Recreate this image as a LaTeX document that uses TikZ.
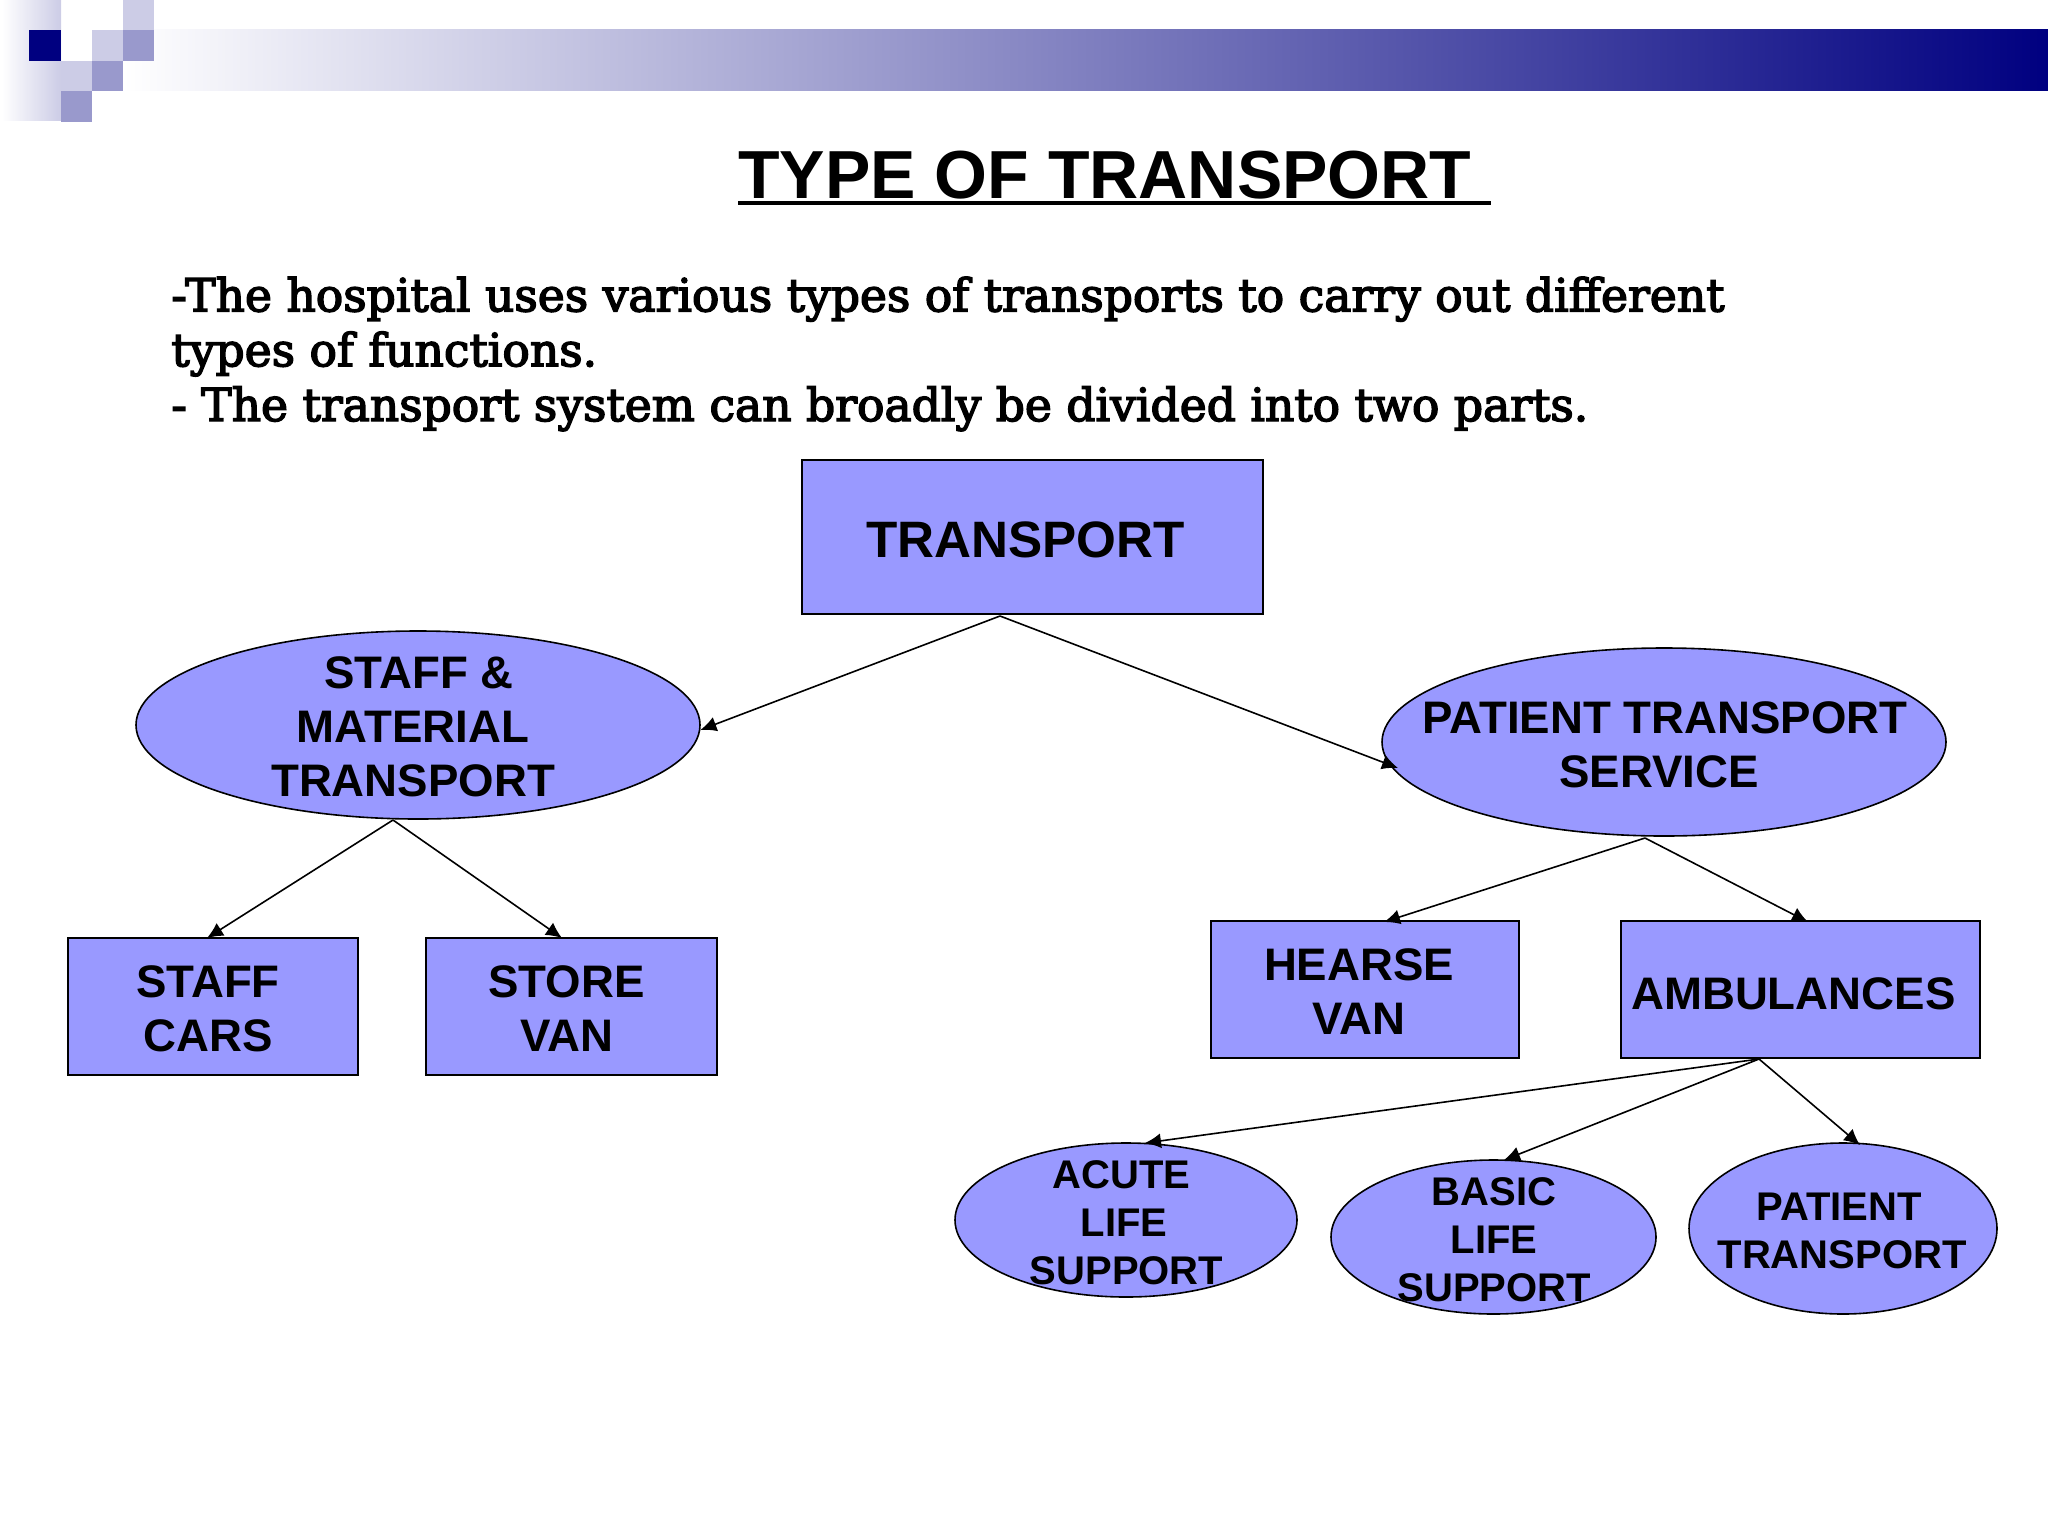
\documentclass[tikz,border=0pt]{standalone}
\usepackage{fontspec}
\setmainfont{Liberation Sans}
\newfontfamily\bodyfont[FakeBold=3.2]{DejaVu Serif}
\usetikzlibrary{shapes.geometric, arrows.meta, positioning, calc}
\definecolor{boxblue}{HTML}{9999FF}
\definecolor{deepnavy}{HTML}{000080}
\definecolor{palesq}{HTML}{CCCCE6}
\definecolor{midsq}{HTML}{9999CC}

\begin{document}
\begin{tikzpicture}[
    x=0.5pt, y=-0.5pt,
    % Define styles
    boxbig/.style={rectangle, draw=black, line width=0.8pt, fill=boxblue, inner sep=0pt},
    oval/.style={ellipse, draw=black, line width=0.8pt, fill=boxblue, inner sep=0pt},
    bigtext/.style={font=\fontsize{25.6}{31}\selectfont\bfseries, align=center, inner sep=0pt},
    midtext/.style={font=\fontsize{22.8}{27}\selectfont\bfseries, align=center, inner sep=0pt},
    smalltext/.style={font=\fontsize{20}{24}\selectfont\bfseries, align=center, inner sep=0pt},
    arrow/.style={-{Latex[length=8pt, width=7.5pt]}, line width=0.8pt},
    ]
    \useasboundingbox (0,0) rectangle (2048,1536);

    % Header band and squares
    \shade[left color=white, right color=deepnavy] (123,30) rectangle (2048,91);
    \shade[left color=white, right color=palesq] (2,0) rectangle (61,120);
    \fill[palesq] (123,0) rectangle (154,30);
    \fill[palesq] (92,30) rectangle (123,61);
    \fill[midsq] (123,30) rectangle (154,61);
    \fill[palesq] (61,61) rectangle (92,91);
    \fill[midsq] (92,61) rectangle (123,91);
    \fill[midsq] (61,91) rectangle (92,122);
    \fill[deepnavy] (29,30) rectangle (61,61);

    % Title and text
    \node[font=\fontsize{34}{40}\selectfont\bfseries, inner sep=0pt, anchor=base west] (title) at (738,198) {TYPE OF TRANSPORT};
    \coordinate (ruleStart) at (738,203);
    \coordinate (ruleEnd) at (1491,203);
    \draw[line width=1.7pt] (ruleStart) -- (ruleEnd);
    \node[font=\fontsize{22.8}{27.4}\selectfont\bodyfont, align=left, inner sep=0pt, anchor=base west] (intro) at (171,421) {-The hospital uses various types of transports to carry out different\\types of functions.\\- The transport system can broadly be divided into two parts.};

    % Main nodes
    \node[boxbig, minimum width=230.5pt, minimum height=77pt,
        label={[bigtext, xshift=-3.5pt, yshift=-1.5pt]center:TRANSPORT}] (transport) at (1032.5,537) {};
    \node[oval, minimum width=282pt, minimum height=94pt,
        label={[midtext, xshift=-2.5pt, yshift=-1pt]center:\hspace*{6pt}STAFF \&\\MATERIAL\\TRANSPORT}] (staff) at (418,725) {};
    \node[oval, minimum width=282pt, minimum height=94pt,
        label={[midtext, xshift=0.5pt, yshift=-1.6pt]center:PATIENT TRANSPORT\\SERVICE\hspace*{6pt}}] (patient) at (1664,742) {};

    % Second row
    \node[boxbig, minimum width=145pt, minimum height=68.5pt,
        label={[midtext, xshift=-2.5pt, yshift=-1pt]center:STAFF\\CARS}] (cars) at (213,1006.5) {};
    \node[boxbig, minimum width=145.5pt, minimum height=68.5pt,
        label={[midtext, xshift=-2.5pt, yshift=-1pt]center:STORE\\VAN}] (store) at (571.5,1006.5) {};
    \node[boxbig, minimum width=154pt, minimum height=68.5pt,
        label={[midtext, xshift=-3pt, yshift=-1.2pt]center:HEARSE\\VAN}] (hearse) at (1365,989.5) {};
    \node[boxbig, minimum width=179.5pt, minimum height=68.5pt,
        label={[midtext, xshift=-3.6pt, yshift=-2pt]center:AMBULANCES}] (ambulances) at (1800.5,989.5) {};

    % Third row
    \node[oval, minimum width=171pt, minimum height=77pt,
        label={[smalltext, xshift=-1pt, yshift=-1.2pt]center:ACUTE\hspace*{2.6pt}\\LIFE\hspace*{2.6pt}\\\hspace*{2.6pt}SUPPORT}] (acute) at (1126,1220) {};
    \node[oval, minimum width=162.5pt, minimum height=77pt,
        label={[smalltext, xshift=0.3pt, yshift=-1.2pt]center:BASIC\\LIFE\hspace*{6pt}\\SUPPORT}] (basic) at (1493.5,1237) {};
    \node[oval, minimum width=154pt, minimum height=85.5pt,
        label={[smalltext, xshift=-0.5pt, yshift=-1pt]center:PATIENT\hspace*{3pt}\\TRANSPORT}] (ptrans) at (1843,1228.5) {};

    % Connector ends
    \coordinate (transportOut) at (1000,616);
    \coordinate (staffOut) at (393,820);
    \coordinate (patientOut) at (1645,838);
    \coordinate (ambOut) at (1759,1059);
    \coordinate (patientIn) at (1398,768);
    \coordinate (storeIn) at (562,938);
    \coordinate (carsIn) at (207,938);
    \coordinate (hearseIn) at (1384,922);
    \coordinate (ambIn) at (1808,922);
    \coordinate (acuteIn) at (1145,1143);
    \coordinate (basicIn) at (1504,1160);
    \coordinate (ptransIn) at (1860,1145);

    % Arrows
    \draw[arrow] (transportOut) -- (staff.-1.3);
    \draw[arrow] (transportOut) -- (patientIn);
    \draw[arrow] (staffOut) -- (carsIn);
    \draw[arrow] (staffOut) -- (storeIn);
    \draw[arrow] (patientOut) -- (hearseIn);
    \draw[arrow] (patientOut) -- (ambIn);
    \draw[arrow] (ambOut) -- (acuteIn);
    \draw[arrow] (ambOut) -- (basicIn);
    \draw[arrow] (ambOut) -- (ptransIn);
\end{tikzpicture}
\end{document}
